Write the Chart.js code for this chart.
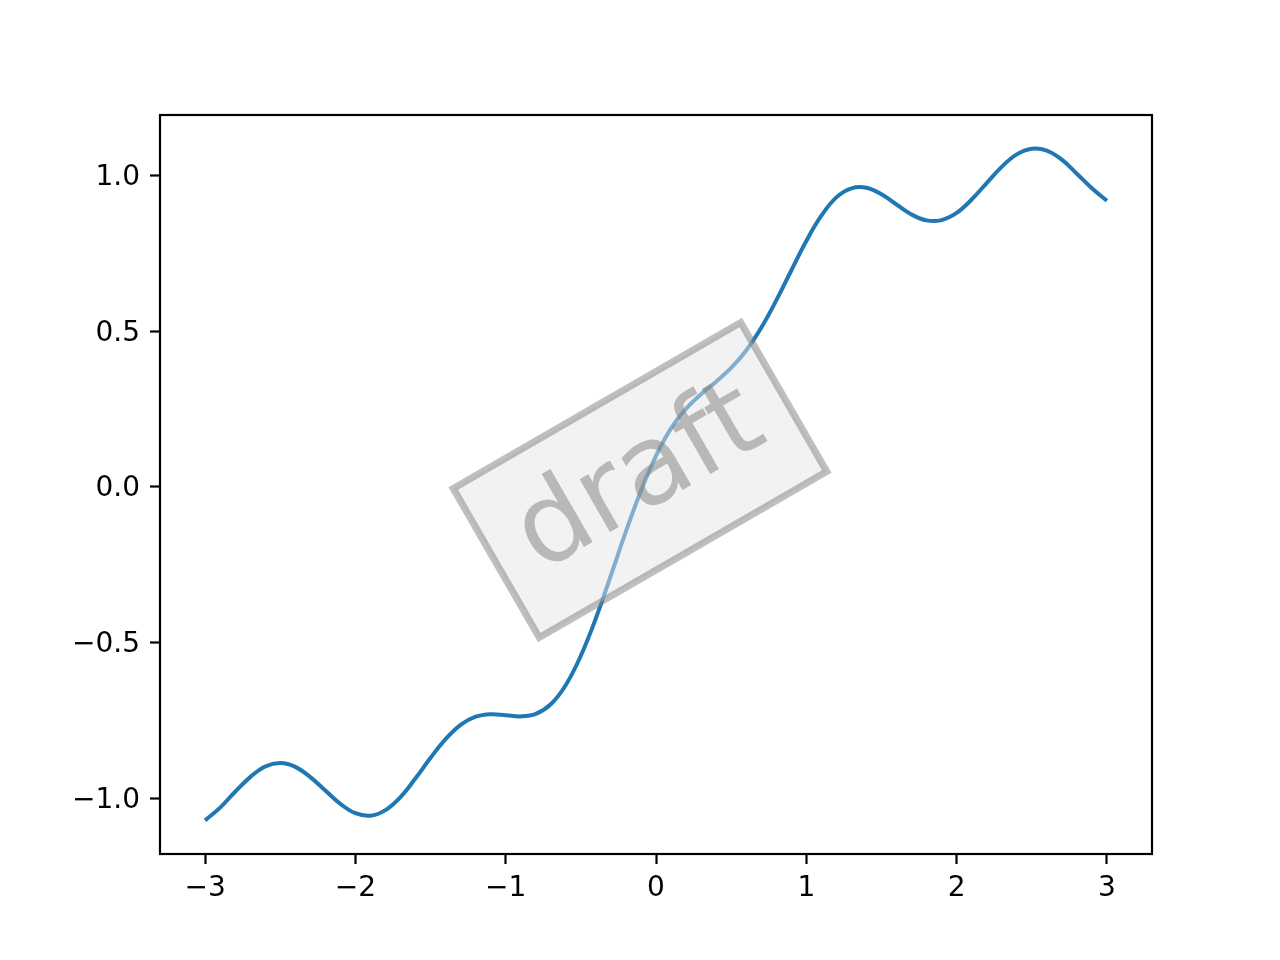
<!DOCTYPE html>
<html>
<head>
<meta charset="utf-8">
<script src="https://cdn.jsdelivr.net/npm/chart.js@4"></script>
<style>
html,body{margin:0;padding:0;background:#fff;}
#wrap{width:1280px;height:960px;}
</style>
</head>
<body>
<div id="wrap"><canvas id="c" width="1280" height="960"></canvas></div>
<script>
const xValues = [-3.0,-2.9,-2.8,-2.7,-2.6,-2.5,-2.4,-2.3,-2.2,-2.1,-2.0,-1.9,-1.8,-1.7,-1.6,-1.5,-1.4,-1.3,-1.2,-1.1,-1.0,-0.9,-0.8,-0.7,-0.6,-0.5,-0.4,-0.3,-0.2,-0.1,0.0,0.1,0.2,0.3,0.4,0.5,0.6,0.7,0.8,0.9,1.0,1.1,1.2,1.3,1.4,1.5,1.6,1.7,1.8,1.9,2.0,2.1,2.2,2.3,2.4,2.5,2.6,2.7,2.8,2.9,3.0];
const yValues = [-1.071,-1.030,-0.979,-0.932,-0.898,-0.887,-0.899,-0.932,-0.975,-1.018,-1.048,-1.056,-1.038,-0.996,-0.936,-0.870,-0.810,-0.764,-0.738,-0.730,-0.733,-0.737,-0.729,-0.698,-0.636,-0.542,-0.422,-0.284,-0.143,-0.012,0.100,0.188,0.251,0.298,0.338,0.382,0.438,0.511,0.599,0.695,0.790,0.871,0.930,0.959,0.961,0.940,0.907,0.875,0.856,0.857,0.880,0.923,0.976,1.028,1.068,1.086,1.080,1.051,1.006,0.959,0.919];
const xTicks = [-3,-2,-1,0,1,2,3];
const yTicks = [-1.0,-0.5,0.0,0.5,1.0];
const watermarkText = 'draft';

const MINUS = '\u2212';
function fmtX(v){ return v < 0 ? MINUS + Math.abs(v) : String(v); }
function fmtY(v){ return v < 0 ? MINUS + Math.abs(v).toFixed(1) : v.toFixed(1); }

const framePlugin = {
  id: 'frame',
  afterDatasetsDraw(chart){
    const a = chart.chartArea, ctx = chart.ctx;
    ctx.save();
    ctx.lineWidth = 2.2;
    ctx.strokeStyle = '#000';
    ctx.strokeRect(a.left, a.top, a.right - a.left, a.bottom - a.top);
    ctx.restore();
  }
};
const watermarkPlugin = {
  id: 'watermark',
  afterDraw(chart){
    const ctx = chart.ctx;
    ctx.save();
    ctx.translate(chart.width/2, chart.height/2);
    ctx.rotate(-Math.PI/6);
    ctx.globalAlpha = 0.5;
    ctx.fillStyle = '#e5e5e5';
    ctx.fillRect(-166, -86, 332, 172);
    ctx.lineWidth = 7;
    ctx.strokeStyle = '#808080';
    ctx.strokeRect(-166, -86, 332, 172);
    ctx.fillStyle = '#808080';
    ctx.font = '111px "DejaVu Sans"';
    ctx.textAlign = 'center';
    ctx.textBaseline = 'alphabetic';
    ctx.fillText(watermarkText, 0, 30);
    ctx.restore();
  }
};

const tickFont = {family: '"DejaVu Sans"', size: 28};

new Chart(document.getElementById('c'), {
  type: 'line',
  data: {
    datasets: [{
      data: xValues.map((x, i) => ({x: x, y: yValues[i]})),
      borderColor: '#1f77b4',
      borderWidth: 4,
      pointRadius: 0,
      fill: false,
      tension: 0.4
    }]
  },
  options: {
    responsive: false,
    devicePixelRatio: 1,
    animation: false,
    layout: {padding: {top: 115, right: 128, left: 0, bottom: 0}},
    plugins: {legend: {display: false}, tooltip: {enabled: false}},
    scales: {
      x: {
        type: 'linear',
        min: -3.3, max: 3.3,
        afterBuildTicks: (s) => { s.ticks = xTicks.map(v => ({value: v})); },
        afterFit: (s) => { s.height = 106; },
        border: {display: false},
        grid: {display: true, drawOnChartArea: false, drawTicks: true, tickLength: 10, tickWidth: 2.2, tickColor: '#000'},
        ticks: {font: tickFont, color: '#000', padding: 8, maxRotation: 0, autoSkip: false, callback: (v) => fmtX(v)}
      },
      y: {
        type: 'linear',
        min: -1.179, max: 1.1945,
        afterBuildTicks: (s) => { s.ticks = yTicks.map(v => ({value: v})); },
        afterFit: (s) => { s.width = 160; },
        border: {display: false},
        grid: {display: true, drawOnChartArea: false, drawTicks: true, tickLength: 10, tickWidth: 2.2, tickColor: '#000'},
        ticks: {font: tickFont, color: '#000', padding: 10, labelOffset: 2, autoSkip: false, callback: (v) => fmtY(v)}
      }
    }
  },
  plugins: [framePlugin, watermarkPlugin]
});
</script>
</body>
</html>
